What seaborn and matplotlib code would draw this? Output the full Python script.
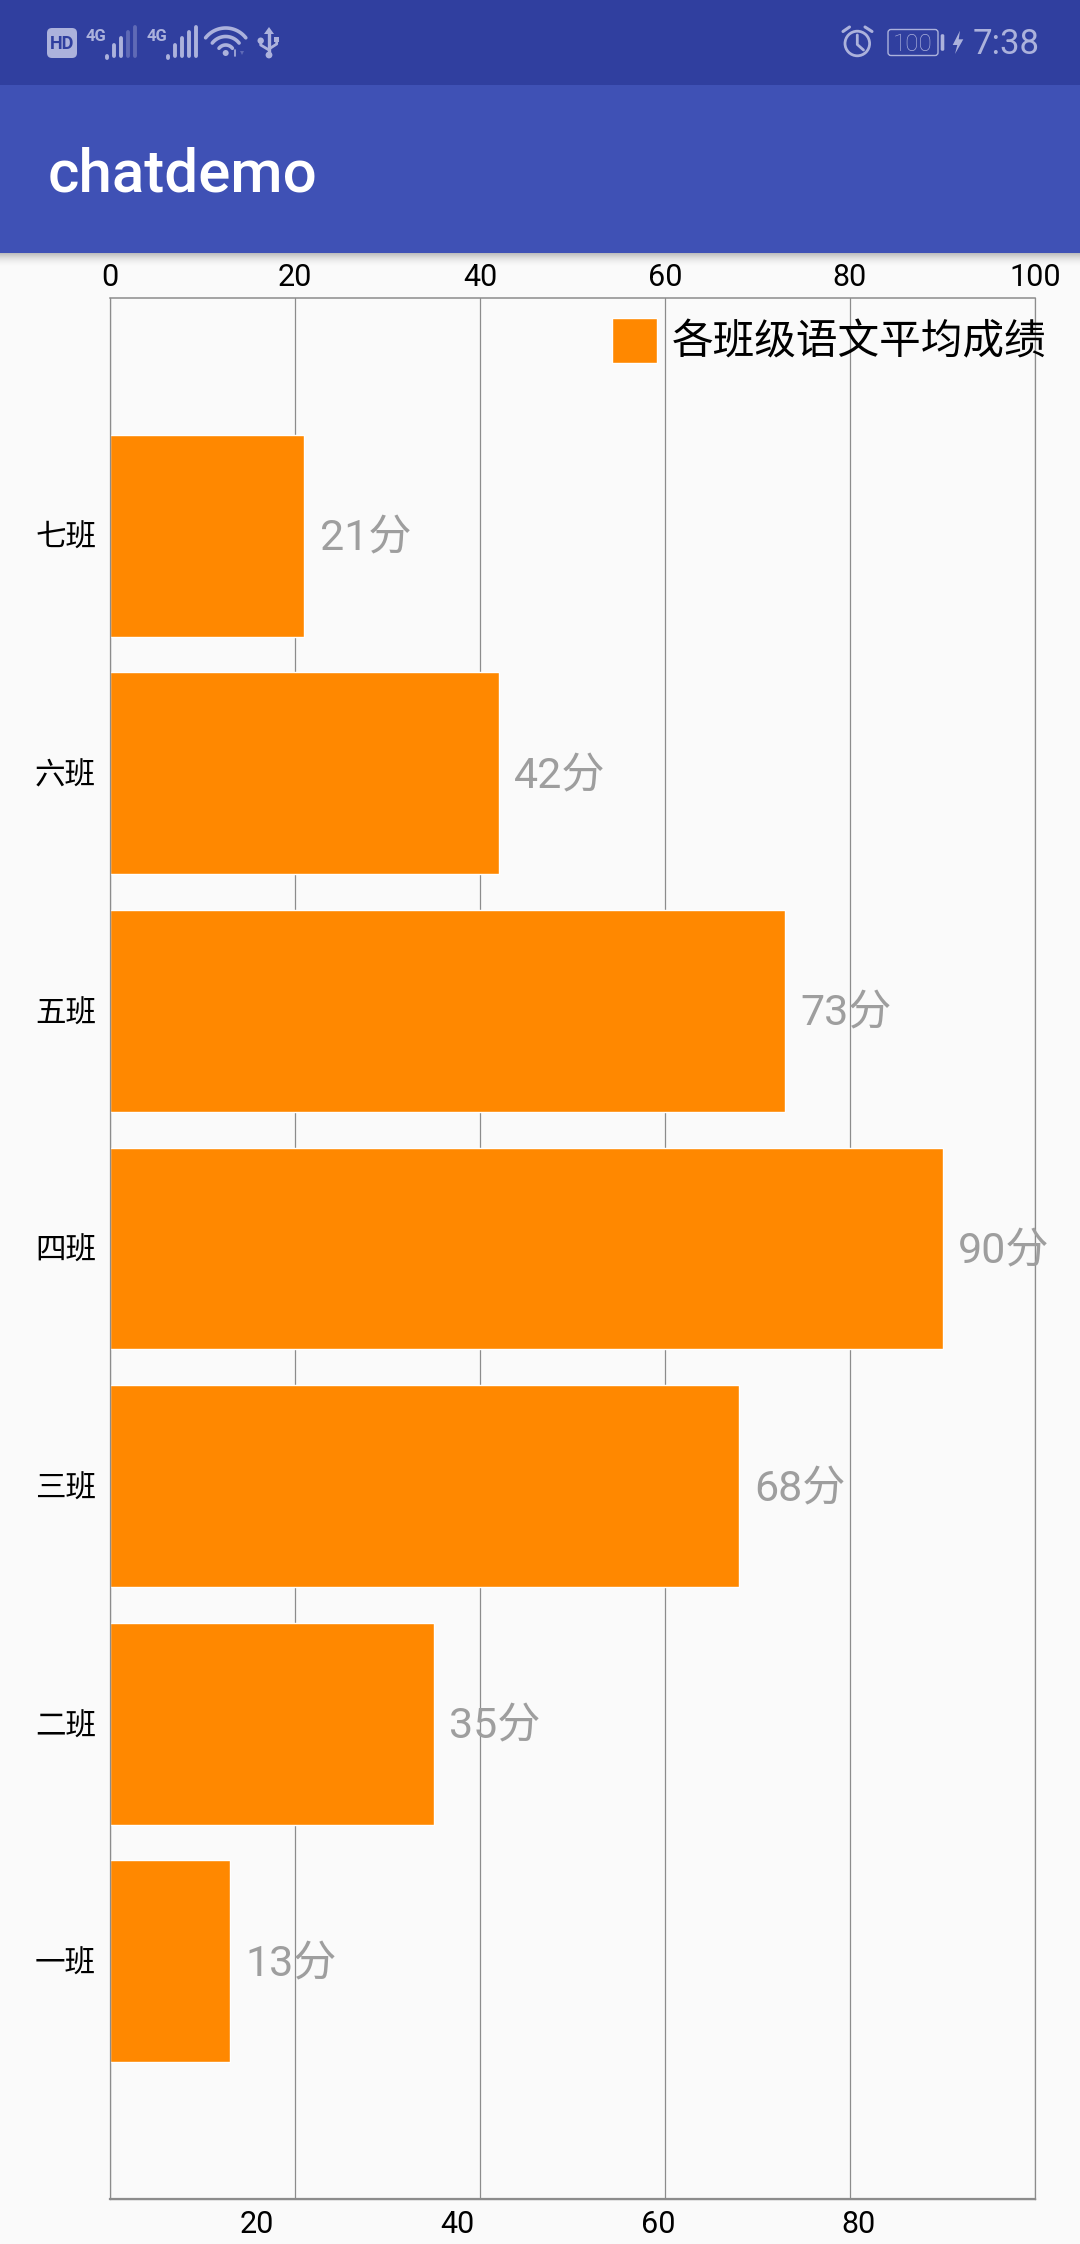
import numpy as np
import matplotlib
matplotlib.use('Agg')
import matplotlib.pyplot as plt
from matplotlib.patches import Rectangle, FancyBboxPatch, Polygon, Circle
import seaborn as sns

classes = ['七班', '六班', '五班', '四班', '三班', '二班', '一班']
scores = [21, 42, 73, 90, 68, 35, 13]
top_ticks = [0, 20, 40, 60, 80, 100]
bottom_ticks = [20, 40, 60, 80]
bottom_range = (5.4, 97.6)
legend_label = '各班级语文平均成绩'

ORANGE = '#FF8800'
BG = '#FAFAFA'
GRID = '#8C8C8C'
STATUS = '#303F9F'
TOOLBAR = '#3F51B5'
ICON = '#ACB2DC'
ICON_DIM = '#5F6AB6'

W, H = 1080, 2244

sns.set_style('white')
plt.rcParams['font.family'] = ['Roboto', 'Noto Sans CJK SC', 'DejaVu Sans']

fig = plt.figure(figsize=(W / 100, H / 100), dpi=100, facecolor=BG)

# phone chrome, drawn in pixel coordinates
ui = fig.add_axes([0, 0, 1, 1], zorder=0)
ui.set_xlim(0, W)
ui.set_ylim(H, 0)
ui.axis('off')
ui.add_patch(Rectangle((0, 0), W, 85, color=STATUS, lw=0))
ui.add_patch(Rectangle((0, 85), W, 168, color=TOOLBAR, lw=0))
for i in range(14):
    ui.add_patch(Rectangle((0, 253 + i), W, 1, color='black', lw=0, alpha=0.24 * (1 - i / 14) ** 2))
ui.text(48, 191, 'chatdemo', color='white', fontsize=43.2, fontweight='medium', va='baseline')

# HD badge
ui.add_patch(FancyBboxPatch((50, 31), 24, 24, boxstyle='round,pad=3,rounding_size=5', color=ICON, lw=0))
ui.text(62, 43.5, 'HD', color=STATUS, fontsize=13, fontweight='bold', ha='center', va='center')


def signal(x0, n_solid):
    tops = [50, 45, 38, 32, 27]
    for i, t in enumerate(tops):
        c = ICON if i < n_solid else ICON_DIM
        ui.plot([x0 + i * 7.1] * 2, [t + 8 if i == 0 else t, 56], color=c, lw=2.8, solid_capstyle='round')


ui.text(96, 41, '4G', color=ICON, fontsize=12, fontweight='bold', ha='center', va='baseline')
signal(106.5, 3)
ui.text(157, 41, '4G', color=ICON, fontsize=12, fontweight='bold', ha='center', va='baseline')
signal(167.5, 5)

# wifi
for r in (8.5, 17, 25.5):
    a = np.radians(np.linspace(38, 142, 40))
    ui.plot(225.7 + r * np.cos(a), 53.5 - r * np.sin(a), color=ICON, lw=2.6, solid_capstyle='round')
ui.add_patch(Circle((225.7, 53), 3, color=ICON, lw=0))
ui.plot([235, 235], [50, 56], color=ICON, lw=1.2)
ui.add_patch(Polygon([(240, 51), (244, 51), (242, 55)], color=ICON_DIM, lw=0))

# usb
ui.plot([269, 269], [32, 54], color=ICON, lw=2.4)
ui.add_patch(Polygon([(269, 27), (274, 34), (264, 34)], color=ICON, lw=0))
ui.add_patch(Circle((269, 55), 3.4, color=ICON, lw=0))
ui.plot([260.7, 260.7, 269], [41, 45, 50], color=ICON, lw=2)
ui.plot([276.7, 276.7, 269], [40, 44, 49], color=ICON, lw=2)
ui.add_patch(Circle((260.7, 40.7), 3.2, color=ICON, lw=0))
ui.add_patch(Rectangle((274, 36.5), 5.4, 5.4, color=ICON, lw=0))

# alarm
ui.add_patch(Circle((857.3, 43.5), 12.3, fill=False, ec=ICON, lw=2))
ui.plot([857.3, 857.3, 863.5], [35, 44.5, 50], color=ICON, lw=2)
ui.plot([843, 849.5], [31.5, 27], color=ICON, lw=2.2)
ui.plot([865, 872], [27, 31.5], color=ICON, lw=2.2)

# battery
ui.add_patch(FancyBboxPatch((889, 30.5), 48, 24, boxstyle='round,pad=1,rounding_size=3', fill=False, ec=ICON, lw=1))
ui.add_patch(FancyBboxPatch((941.5, 35), 2, 15, boxstyle='round,pad=0.8,rounding_size=1.5', color=ICON, lw=0))
ui.text(912.7, 50.7, '100', color=ICON, fontsize=17.3, fontweight='light', ha='center', va='baseline')
ui.add_patch(Polygon([(960, 30.7), (952.7, 45), (957.3, 45), (955, 54), (963.3, 39.3), (958.7, 39.3)], color=ICON, lw=0))
ui.text(973, 54, '7:38', color=ICON, fontsize=25, va='baseline')

# chart
left, right, top, bottom = 110, 1035, 298, 2199
ax = fig.add_axes([left / W, 1 - bottom / H, (right - left) / W, (bottom - top) / H], zorder=1)
ax.set_facecolor(BG)
ax.set_axisbelow(True)
sns.barplot(x=scores, y=classes, color=ORANGE, saturation=1, width=0.85, orient='h',
            label=legend_label, ax=ax)
ax.set_xlim(0, 100)
ax.set_ylim(7, -1)
ax.set_xticks(top_ticks)
ax.grid(axis='x', color=GRID, lw=0.9)
ax.grid(axis='y', visible=False)
ax.tick_params(axis='y', length=0, pad=10, labelsize=22, labelcolor='black')
ax.set_xlabel('')
ax.set_ylabel('')
for s in ax.spines.values():
    s.set_color(GRID)
    s.set_linewidth(0.9)
ax.spines['top'].set_linewidth(1.1)

value_labels = ax.bar_label(ax.containers[0], labels=[f'{v}分' for v in scores], padding=10.5,
                            fontsize=31, color='#9E9E9E')
for t in value_labels:
    t.xyann = (11, -2.5)

ax.legend(loc='upper right', bbox_to_anchor=(1046.5 / W, 1 - 318 / H), bbox_transform=fig.transFigure,
          frameon=False, borderpad=0, borderaxespad=0, handlelength=1.08, handleheight=1.3,
          handletextpad=0.36, fontsize=30, labelcolor='black')

# second x axis along the bottom, its range differs from the top one
ax2 = ax.twiny()
ax2.set_zorder(2)
ax2.patch.set_visible(False)
ax2.set_xlim(*bottom_range)
ax2.set_xticks(bottom_ticks)
ax2.xaxis.tick_bottom()
ax2.tick_params(axis='x', length=0, pad=8, labelsize=22, labelcolor='black')
ax2.grid(False)
for name, s in ax2.spines.items():
    s.set_visible(name == 'bottom')
ax2.spines['bottom'].set_color(GRID)
ax2.spines['bottom'].set_linewidth(1.6)

# twiny moves the main axis ticks to the bottom, put them back on top
ax.xaxis.tick_top()
ax.tick_params(axis='x', length=0, pad=4.5, labelsize=22, labelcolor='black')

fig.savefig('out.png', dpi=100, facecolor=BG)
